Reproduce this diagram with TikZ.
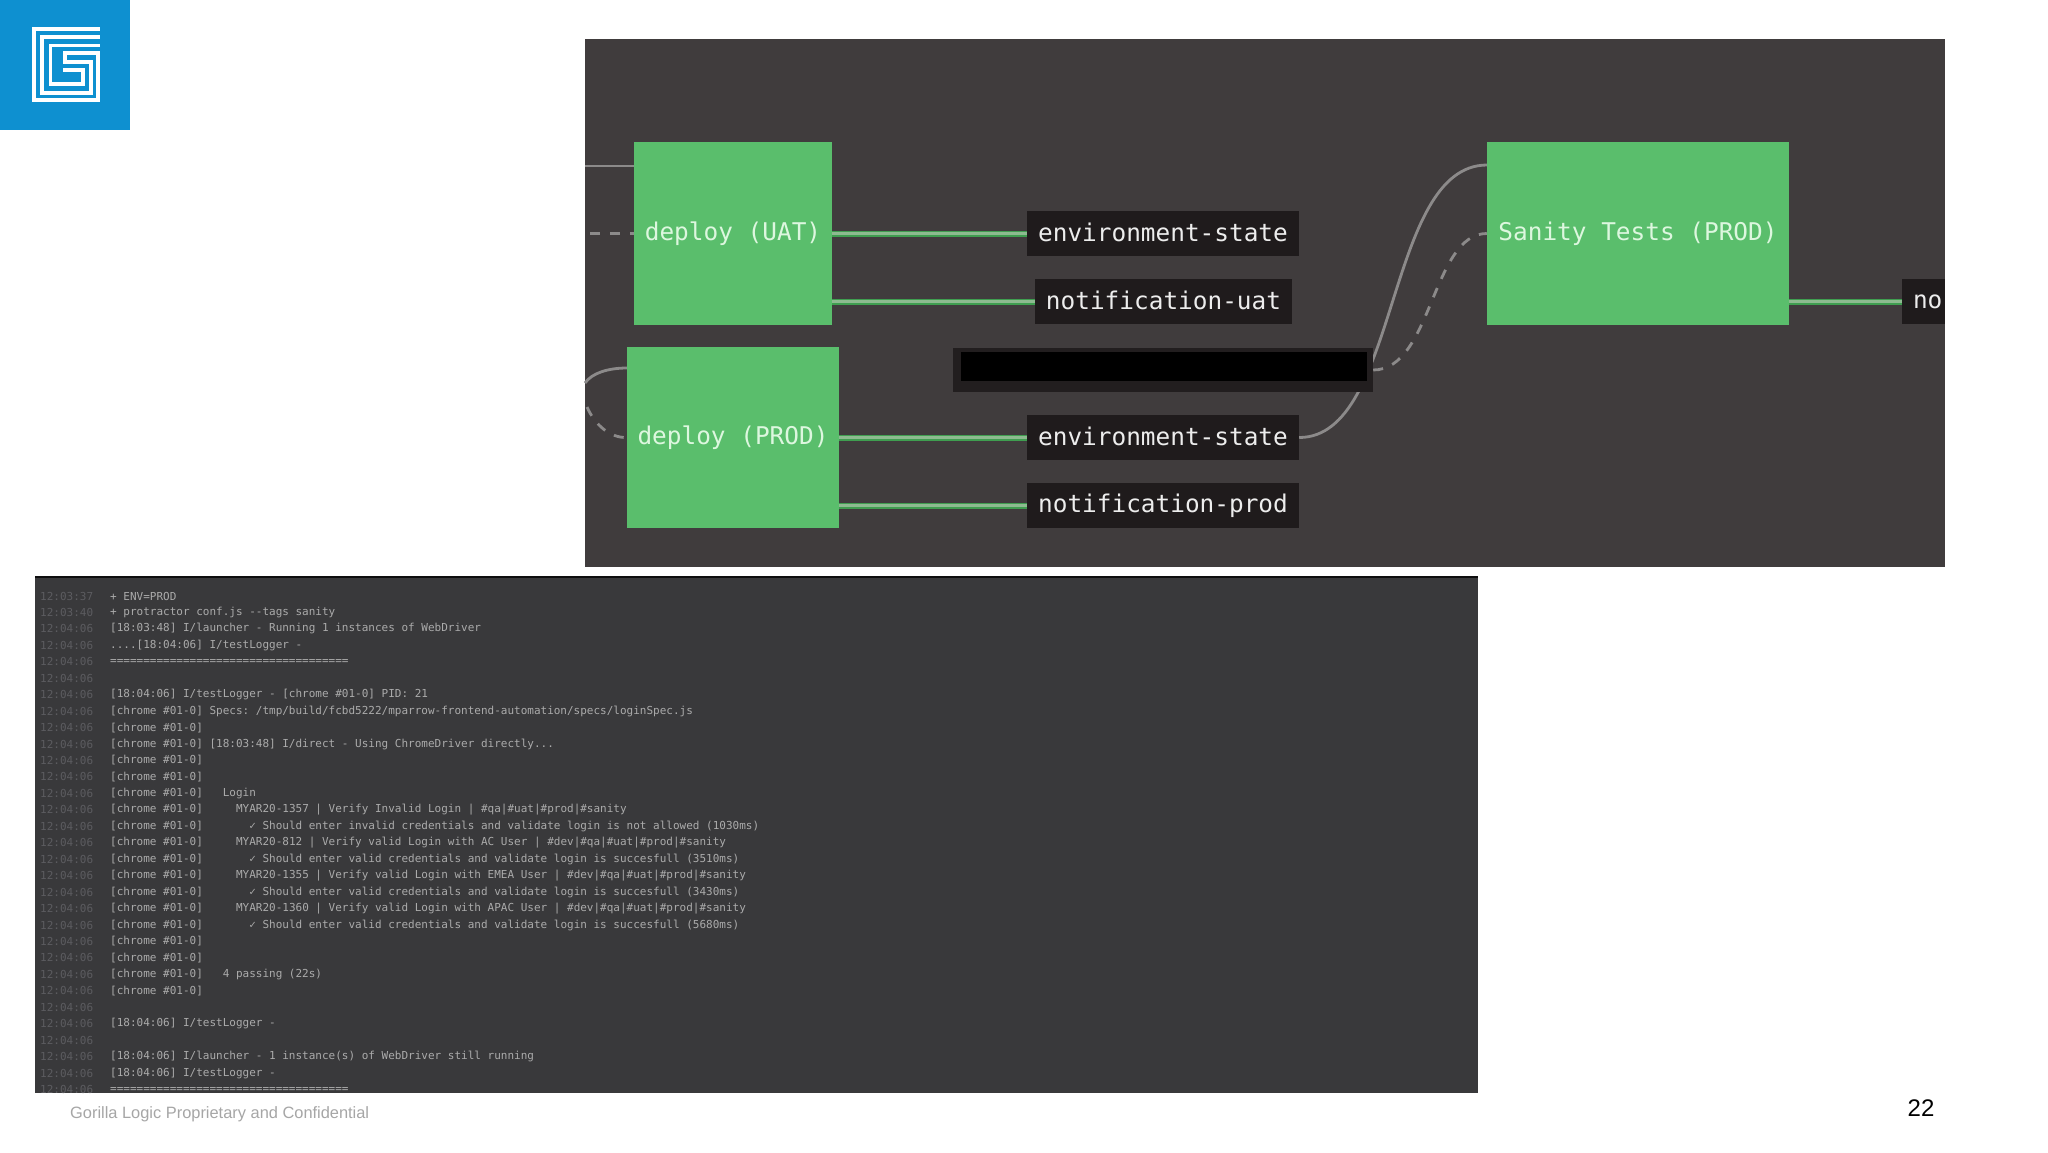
\documentclass[tikz,border=0pt]{standalone}
\usepackage{fontspec}
\setmainfont{Liberation Sans}
\setmonofont{DejaVu Sans Mono}
\definecolor{bluelogo}{HTML}{0E90D0}
\definecolor{panelbg}{HTML}{403C3D}
\definecolor{logbg}{HTML}{39393B}
\definecolor{jobgreen}{HTML}{5ABE6C}
\definecolor{labelbg}{HTML}{1F1B1C}
\definecolor{redactbg}{HTML}{221E1F}
\definecolor{wiregray}{HTML}{8C8A8A}
\definecolor{edgegreen}{HTML}{3F9E50}
\definecolor{edgecore}{HTML}{8DBB90}
\definecolor{jobtext}{HTML}{DDF7DF}
\definecolor{labeltext}{HTML}{EDEDED}
\definecolor{logfg}{HTML}{ABABAB}
\definecolor{stampfg}{HTML}{5C5C60}
\pgfdeclarelayer{panels}
\pgfdeclarelayer{wires}
\pgfsetlayers{panels,wires,main}
\tikzset{
  x=1pt,y=-1pt,
  jobbox/.style={fill=jobgreen,draw=none,inner sep=0pt,text=jobtext,font=\ttfamily\fontsize{24.4}{28}\selectfont},
  labelbox/.style={fill=labelbg,draw=none,inner sep=0pt,text=labeltext,font=\ttfamily\fontsize{24.4}{28}\selectfont,minimum height=45pt},
  greenwire/.style={draw=edgegreen,line width=1.8pt,double=edgecore,double distance=2.4pt},
  graywire/.style={draw=wiregray,line width=2.8pt},
  graydash/.style={draw=wiregray,line width=2.8pt,dash pattern=on 10pt off 10pt},
  logtext/.style={anchor=west,inner sep=0pt,text=logfg,font=\ttfamily\fontsize{11}{13}\selectfont},
  logstamp/.style={anchor=west,inner sep=0pt,text=stampfg,font=\ttfamily\fontsize{11}{13}\selectfont},
}
\newcommand{\liftup}[1]{\raisebox{3pt}{#1}}
\newcommand{\logrow}[3]{%
  \node[logstamp] (stamp#1) at (40,{596+16.45*#1}) {#2};
  \node[logtext] (row#1) at (110,{596+16.45*#1}) {#3};}
\newcommand{\chromerow}[3]{\logrow{#1}{#2}{[chrome~\#01-0]#3}}
\begin{document}
\begin{tikzpicture}
\useasboundingbox (0,0) rectangle (2048,1152);

% panels
\begin{pgfonlayer}{panels}
  \fill[white] (0,0) rectangle (2048,1152);
  \fill[panelbg] (585,39) rectangle (1945,567);
  \fill[logbg] (34.5,576) rectangle (1478,1093);
  \fill[black!75!logbg] (34.5,575.5) rectangle (1478,578);
\end{pgfonlayer}

% logo
\fill[bluelogo] (0,0) rectangle (129.5,129.5);
\begin{scope}[shift={(20,15)},x=0.3333pt,y=-0.3333pt]
  \draw[white,line width=4pt,line join=miter]
    (240,67)--(67,67)--(67,233)--(212,233)--(212,140)--(135,140)--(135,115)--(234,115)--(234,256)--(43,256)--(43,41)--(240,41);
  \draw[white,line width=3.6pt,line join=miter]
    (240,92)--(91,92)--(91,207)--(189,207)--(189,165)--(130,165);
\end{scope}

\node[jobbox,minimum width=198pt,minimum height=183pt] (uat) at (733,233.5) {deploy (UAT)};
\node[jobbox,minimum width=212pt,minimum height=181pt] (prod) at (733,437.5) {deploy (PROD)};
\node[jobbox,minimum width=302pt,minimum height=183pt] (sanity) at (1638,233.5) {Sanity Tests (PROD)};

\node[labelbox,minimum width=272pt] (env1) at (1163,233.5) {\liftup{environment-state}};
\node[labelbox,minimum width=257pt] (notifuat) at (1163.5,301.5) {\liftup{notification-uat}};
\node[labelbox,minimum width=272pt] (env2) at (1163,437.5) {\liftup{environment-state}};
\node[labelbox,minimum width=272pt] (notifprod) at (1163,505.5) {notification-prod};
\node[labelbox,minimum width=43pt] (nolabel) at (1923.5,301.5) {\hspace{8.4pt}no};
\node[fill=redactbg,inner sep=0pt,minimum width=420pt,minimum height=44pt] (redact) at (1163,370) {};
\node[fill=black,inner sep=0pt,minimum width=406pt,minimum height=29pt] (redactbar) at (1164,366.5) {};

\coordinate (inA) at (585,166);
\coordinate (inB) at (590,233.5);
\coordinate (inC) at (585,383);
\coordinate (inD) at (587,407);
\coordinate (uatin) at (634,166);
\coordinate (prodinA) at (627,368);
\coordinate (sanityA) at (1487,165);

\begin{pgfonlayer}{wires}
  \draw[greenwire] (uat.east |- env1.west) -- (env1.west);
  \draw[greenwire] (uat.east |- notifuat.west) -- (notifuat.west);
  \draw[greenwire] (prod.east |- env2.west) -- (env2.west);
  \draw[greenwire] (prod.east |- notifprod.west) -- (notifprod.west);
  \draw[greenwire] (sanity.east |- nolabel.west) -- (nolabel.west);
  \draw[graywire] (inA) -- (uatin);
  \draw[graydash] (inB) -- (uat.west);
  \draw[graywire] (inC) .. controls (592,373) and (608,368) .. (prodinA);
  \draw[graydash] (inD) .. controls (595,425) and (610,438) .. (prod.west);
  \draw[graywire] (env2.east) .. controls (1400,437.5) and (1385,165) .. (sanityA);
  \draw[graydash] (redact.east) .. controls (1432,370) and (1432,233.5) .. (sanity.west);
\end{pgfonlayer}

% console log
\begin{scope}
\clip (34.5,576) rectangle (1478,1093);
\logrow{0}{12:03:37}{+~ENV=PROD}
\logrow{1}{12:03:40}{+~protractor~conf.js~--tags~sanity}
\logrow{2}{12:04:06}{[18:03:48]~I/launcher~-~Running~1~instances~of~WebDriver}
\logrow{3}{12:04:06}{....[18:04:06]~I/testLogger~-}
\logrow{4}{12:04:06}{====================================}
\logrow{5}{12:04:06}{}
\logrow{6}{12:04:06}{[18:04:06]~I/testLogger~-~[chrome~\#01-0]~PID:~21}
\chromerow{7}{12:04:06}{~Specs:~/tmp/build/fcbd5222/mparrow-frontend-automation/specs/loginSpec.js}
\chromerow{8}{12:04:06}{}
\chromerow{9}{12:04:06}{~[18:03:48]~I/direct~-~Using~ChromeDriver~directly...}
\chromerow{10}{12:04:06}{}
\chromerow{11}{12:04:06}{}
\chromerow{12}{12:04:06}{~~~Login}
\chromerow{13}{12:04:06}{~~~~~MYAR20-1357~|~Verify~Invalid~Login~|~\#qa|\#uat|\#prod|\#sanity}
\chromerow{14}{12:04:06}{~~~~~~~✓~Should~enter~invalid~credentials~and~validate~login~is~not~allowed~(1030ms)}
\chromerow{15}{12:04:06}{~~~~~MYAR20-812~|~Verify~valid~Login~with~AC~User~|~\#dev|\#qa|\#uat|\#prod|\#sanity}
\chromerow{16}{12:04:06}{~~~~~~~✓~Should~enter~valid~credentials~and~validate~login~is~succesfull~(3510ms)}
\chromerow{17}{12:04:06}{~~~~~MYAR20-1355~|~Verify~valid~Login~with~EMEA~User~|~\#dev|\#qa|\#uat|\#prod|\#sanity}
\chromerow{18}{12:04:06}{~~~~~~~✓~Should~enter~valid~credentials~and~validate~login~is~succesfull~(3430ms)}
\chromerow{19}{12:04:06}{~~~~~MYAR20-1360~|~Verify~valid~Login~with~APAC~User~|~\#dev|\#qa|\#uat|\#prod|\#sanity}
\chromerow{20}{12:04:06}{~~~~~~~✓~Should~enter~valid~credentials~and~validate~login~is~succesfull~(5680ms)}
\chromerow{21}{12:04:06}{}
\chromerow{22}{12:04:06}{}
\chromerow{23}{12:04:06}{~~~4~passing~(22s)}
\chromerow{24}{12:04:06}{}
\logrow{25}{12:04:06}{}
\logrow{26}{12:04:06}{[18:04:06]~I/testLogger~-}
\logrow{27}{12:04:06}{}
\logrow{28}{12:04:06}{[18:04:06]~I/launcher~-~1~instance(s)~of~WebDriver~still~running}
\logrow{29}{12:04:06}{[18:04:06]~I/testLogger~-}
\logrow{30}{12:04:06}{====================================}
\end{scope}

% footer
\node[anchor=west,inner sep=0pt,text=black!35,font=\fontsize{16.4}{20}\selectfont] (footer) at (70,1114) {Gorilla Logic Proprietary and Confidential};
\node[anchor=center,inner sep=0pt,text=black,font=\fontsize{24}{28}\selectfont] (pageno) at (1921,1108) {22};
\end{tikzpicture}
\end{document}
